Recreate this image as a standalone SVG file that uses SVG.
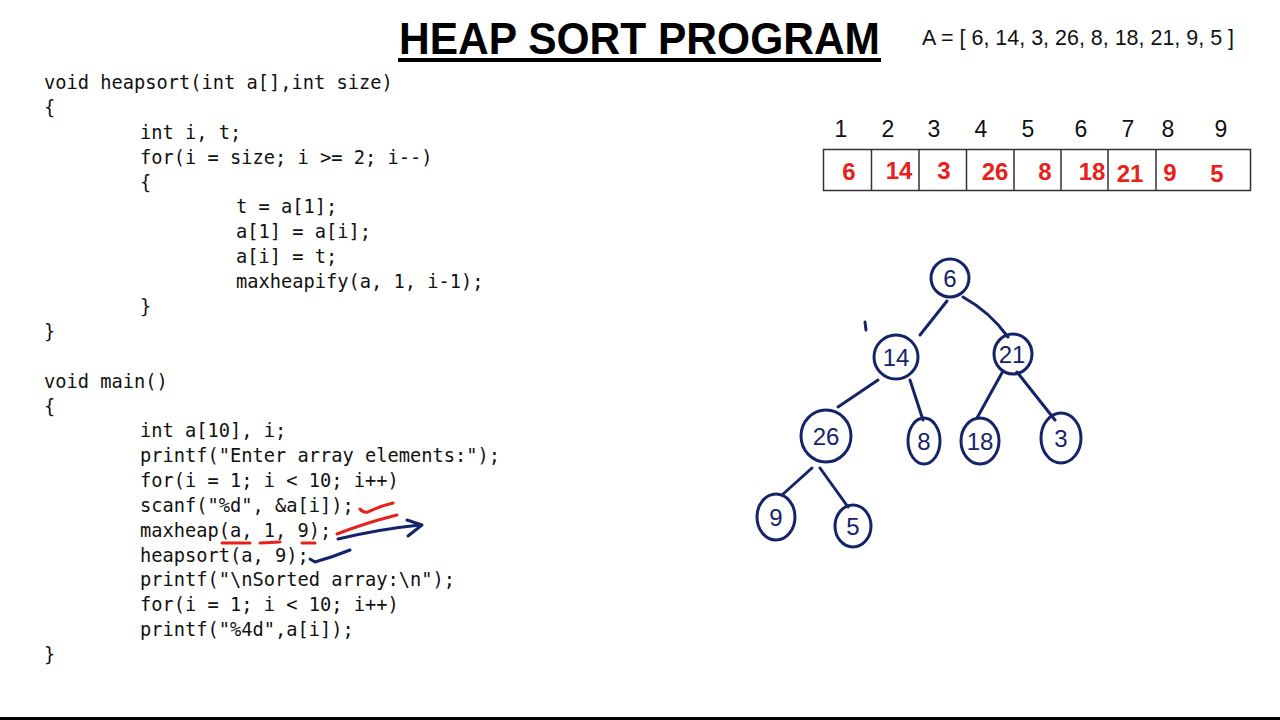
<svg xmlns="http://www.w3.org/2000/svg" width="1280" height="720" viewBox="0 0 1280 720">
<style>
.code{font-family:"DejaVu Sans Mono","Liberation Mono",monospace;font-size:18.7px;fill:#111}
.idx{font-family:"Liberation Sans",Arial,sans-serif;font-size:23px;fill:#111;text-anchor:middle}
.val{font-family:"Liberation Sans",Arial,sans-serif;font-size:24px;font-weight:bold;fill:#e8201a;text-anchor:middle}
.cell{fill:#fff;stroke:#333;stroke-width:1.5}
.nd{fill:none;stroke:#15246a;stroke-width:3}
.nt{font-family:"Liberation Sans",Arial,sans-serif;font-size:24px;fill:#15246a;text-anchor:middle}
.ed{stroke:#15246a;stroke-width:3;stroke-linecap:round;fill:none}
.red{stroke:#e8201a;stroke-width:3;stroke-linecap:round;fill:none}
.blue{stroke:#15246a;stroke-width:3;stroke-linecap:round;stroke-linejoin:round;fill:none}
</style>
<rect width="1280" height="720" fill="#fff"/>
<g id="title">
<text x="399" y="54" font-family="Liberation Sans,Arial,sans-serif" font-size="44" font-weight="bold" textLength="481" lengthAdjust="spacingAndGlyphs" fill="#000">HEAP SORT PROGRAM</text>
<rect x="398" y="58" width="483" height="4" fill="#000"/>
</g>
<text id="arr-def" x="922" y="45" font-family="Liberation Sans,Arial,sans-serif" font-size="22" textLength="312" lengthAdjust="spacingAndGlyphs" fill="#111">A = [ 6, 14, 3, 26, 8, 18, 21, 9, 5 ]</text>
<g id="code">
<text class="code" x="44" y="89">void heapsort(int a[],int size)</text>
<text class="code" x="44" y="114">{</text>
<text class="code" x="140" y="139">int i, t;</text>
<text class="code" x="140" y="164">for(i = size; i &gt;= 2; i--)</text>
<text class="code" x="140" y="189">{</text>
<text class="code" x="236" y="213">t = a[1];</text>
<text class="code" x="236" y="238">a[1] = a[i];</text>
<text class="code" x="236" y="263">a[i] = t;</text>
<text class="code" x="236" y="288">maxheapify(a, 1, i-1);</text>
<text class="code" x="140" y="313">}</text>
<text class="code" x="44" y="338">}</text>
<text class="code" x="44" y="388">void main()</text>
<text class="code" x="44" y="413">{</text>
<text class="code" x="140" y="437">int a[10], i;</text>
<text class="code" x="140" y="462">printf("Enter array elements:");</text>
<text class="code" x="140" y="487">for(i = 1; i &lt; 10; i++)</text>
<text class="code" x="140" y="512">scanf("%d", &amp;a[i]);</text>
<text class="code" x="140" y="537">maxheap(a, 1, 9);</text>
<text class="code" x="140" y="562">heapsort(a, 9);</text>
<text class="code" x="140" y="586">printf("\nSorted array:\n");</text>
<text class="code" x="140" y="611">for(i = 1; i &lt; 10; i++)</text>
<text class="code" x="140" y="636">printf("%4d",a[i]);</text>
<text class="code" x="44" y="661">}</text>
</g>
<g id="annotations">
<path class="red" d="M360 509 Q363 513 368 512 Q380 506 393 503"/>
<path class="red" d="M337 534 Q365 523 397 515"/>
<path class="red" d="M222 543 L250 543 M260 543 L280 542 M302 543 L315 543"/>
<path class="blue" d="M338 539 Q380 529 420 525"/>
<path class="blue" d="M407 520 L422 525 L408 536"/>
<path class="blue" d="M310 559 L315 562 Q333 557 350 550"/>
</g>
<g id="array">
<rect class="cell" x="823.5" y="149.5" width="427" height="41"/>
<path stroke="#333" stroke-width="1.5" d="M871.5 149.5V190.5M919 149.5V190.5M966.5 149.5V190.5M1014 149.5V190.5M1061 149.5V190.5M1108 149.5V190.5M1156 149.5V190.5"/>
<text class="idx" x="841" y="137">1</text>
<text class="idx" x="888" y="137">2</text>
<text class="idx" x="934" y="137">3</text>
<text class="idx" x="981" y="137">4</text>
<text class="idx" x="1028" y="137">5</text>
<text class="idx" x="1081" y="137">6</text>
<text class="idx" x="1128" y="137">7</text>
<text class="idx" x="1168" y="137">8</text>
<text class="idx" x="1221" y="137">9</text>
<text class="val" x="849" y="180">6</text>
<text class="val" x="899" y="179">14</text>
<text class="val" x="944" y="179">3</text>
<text class="val" x="995" y="180">26</text>
<text class="val" x="1045" y="180">8</text>
<text class="val" x="1092" y="180">18</text>
<text class="val" x="1130" y="182">21</text>
<text class="val" x="1170" y="181">9</text>
<text class="val" x="1217" y="182">5</text>
</g>
<g id="edges">
<path class="ed" d="M947 301 L920 335"/>
<path class="ed" d="M963 297 Q990 312 1008 337"/>
<path class="ed" d="M878 380 L838 407"/>
<path class="ed" d="M910 380 L923 420"/>
<path class="ed" d="M1003 371 L977 418"/>
<path class="ed" d="M1017 372 L1055 420"/>
<path class="ed" d="M812 468 L782 495"/>
<path class="ed" d="M820 468 L848 507"/>
<path class="ed" d="M865 322 L866 330"/>
</g>
<g id="n6"><ellipse class="nd" cx="950" cy="278" rx="19" ry="19"/><text class="nt" x="950" y="287">6</text></g>
<g id="n14"><ellipse class="nd" cx="896" cy="357" rx="22" ry="22"/><text class="nt" x="896" y="366">14</text></g>
<g id="n21"><ellipse class="nd" cx="1013" cy="354" rx="19" ry="20"/><text class="nt" x="1012" y="363">21</text></g>
<g id="n26"><ellipse class="nd" cx="826" cy="436" rx="25" ry="26"/><text class="nt" x="826" y="445">26</text></g>
<g id="n8"><ellipse class="nd" cx="924" cy="441" rx="16" ry="23"/><text class="nt" x="924" y="450">8</text></g>
<g id="n18"><ellipse class="nd" cx="980" cy="441" rx="19" ry="23"/><text class="nt" x="980" y="450">18</text></g>
<g id="n3"><ellipse class="nd" cx="1061" cy="438" rx="20" ry="25"/><text class="nt" x="1061" y="447">3</text></g>
<g id="n9"><ellipse class="nd" cx="776" cy="517" rx="19" ry="23"/><text class="nt" x="776" y="526">9</text></g>
<g id="n5"><ellipse class="nd" cx="853" cy="526" rx="18" ry="21"/><text class="nt" x="853" y="535">5</text></g>
<rect id="bottom-rule" x="0" y="717" width="1280" height="3" fill="#000"/>
</svg>
